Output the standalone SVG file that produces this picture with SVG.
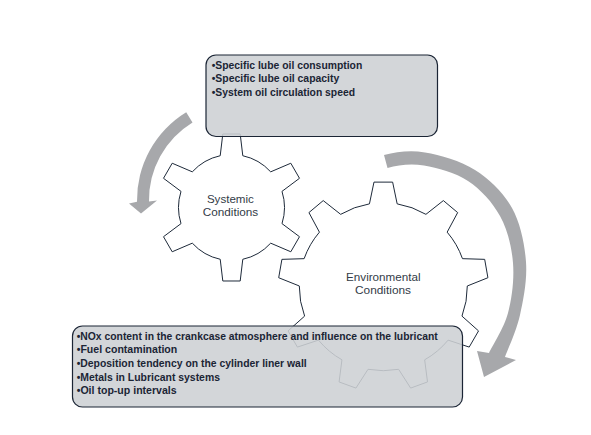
<svg xmlns="http://www.w3.org/2000/svg" width="591" height="435" viewBox="0 0 591 435">
  <style>
    .gear { fill: #ffffff; stroke: #1e2a3a; stroke-width: 1; stroke-linejoin: miter; }
    .glabel { font-family: "Liberation Sans", Arial, sans-serif; font-size: 11px; fill: #333b47; text-anchor: middle; }
    .box { fill: #cdd0d4; fill-opacity: 0.88; stroke: #1b2535; stroke-width: 1.2; }
    .btext { font-family: "Liberation Sans", Arial, sans-serif; font-size: 10px; font-weight: bold; fill: #1b2535; }
    .arrow { fill: #a7a8ab; stroke: none; }
  </style>
  <rect width="591" height="435" fill="#ffffff"/>

  <g id="connectors">
    <path class="arrow" d="M186.2,112.2 A103,103 0 0 0 137.0,201.8 L129,203.5 L141,213.5 L157,200.5 L149.0,201.6 A91,91 0 0 1 192.5,122.4 Z"/>
    <path class="arrow" d="M384,155 C397,152 409.8,150 425,152.5 C440.2,155 460.5,160.75 475,170 C489.5,179.25 503.5,192.7 512,208 C520.5,223.3 524.7,244.2 526,262 C527.3,279.8 523.5,299.2 520,315 C516.5,330.8 507.5,350 505,357 L516,360 L484,377 L477,351 L489,353 C492.2,346.3 504,328 508,313 C512,298 514.3,279.2 513,263 C511.7,246.8 507.5,229.7 500,216 C492.5,202.3 480.7,189.4 468,181 C455.3,172.6 437.4,167.7 424,165.5 C410.6,163.3 398.5,165 387.5,168 Z"/>
  </g>

  <g id="node-systemic">
    <path class="gear" d="M220.21,155.72 L222.80,134.01 L240.20,134.01 L242.79,155.72 A53,53 0 0 1 270.70,171.83 L290.80,163.23 L299.49,178.29 L281.99,191.39 A53,53 0 0 1 281.99,223.61 L299.49,236.71 L290.80,251.77 L270.70,243.17 A53,53 0 0 1 242.79,259.28 L240.20,280.99 L222.80,280.99 L220.21,259.28 A53,53 0 0 1 192.30,243.17 L172.20,251.77 L163.51,236.71 L181.01,223.61 A53,53 0 0 1 181.01,191.39 L163.51,178.29 L172.20,163.23 L192.30,171.83 A53,53 0 0 1 220.21,155.72 Z"/>
    <text class="glabel" x="230.4" y="203.3" textLength="47" lengthAdjust="spacingAndGlyphs">Systemic</text>
    <text class="glabel" x="230.5" y="216" textLength="55.5" lengthAdjust="spacingAndGlyphs">Conditions</text>
  </g>

  <g id="node-environmental">
    <path class="gear" d="M369.44,203.85 L373.97,182.12 L392.63,182.12 L397.16,203.85 A84,84 0 0 1 425.93,214.33 L443.37,200.58 L457.67,212.58 L447.17,232.15 A84,84 0 0 1 462.48,258.66 L484.68,259.35 L487.91,277.73 L467.30,285.97 A84,84 0 0 1 461.98,316.12 L478.54,330.91 L469.20,347.08 L448.11,340.13 A84,84 0 0 1 424.66,359.81 L427.51,381.94 L410.65,388.08 L398.61,369.30 A84,84 0 0 1 368.00,369.30 L355.95,388.08 L339.09,381.94 L341.94,359.81 A84,84 0 0 1 318.49,340.13 L297.40,347.08 L288.06,330.91 L304.62,316.12 A84,84 0 0 1 299.30,285.97 L278.69,277.73 L281.92,259.35 L304.12,258.66 A84,84 0 0 1 319.43,232.15 L308.93,212.58 L323.23,200.58 L340.67,214.33 A84,84 0 0 1 369.44,203.85 Z"/>
    <text class="glabel" x="383.3" y="281" textLength="74.5" lengthAdjust="spacingAndGlyphs">Environmental</text>
    <text class="glabel" x="383" y="293.5" textLength="56" lengthAdjust="spacingAndGlyphs">Conditions</text>
  </g>

  <g id="node-top-box">
    <rect class="box" x="206" y="55" width="231.5" height="81.5" rx="10" ry="10"/>
    <text class="btext" x="211.7" y="68.5" textLength="150.6" lengthAdjust="spacingAndGlyphs">•Specific lube oil consumption</text>
    <text class="btext" x="211.7" y="82" textLength="127.6" lengthAdjust="spacingAndGlyphs">•Specific lube oil capacity</text>
    <text class="btext" x="211.7" y="95.5" textLength="143.3" lengthAdjust="spacingAndGlyphs">•System oil circulation speed</text>
  </g>

  <g id="node-bottom-box">
    <rect class="box" x="72.5" y="326" width="390" height="81" rx="10" ry="10"/>
    <text class="btext" x="76.7" y="339.5" textLength="361" lengthAdjust="spacingAndGlyphs">•NOx content in the crankcase atmosphere and influence on the lubricant</text>
    <text class="btext" x="76.7" y="353.2" textLength="100.6" lengthAdjust="spacingAndGlyphs">•Fuel contamination</text>
    <text class="btext" x="76.7" y="366.9" textLength="230" lengthAdjust="spacingAndGlyphs">•Deposition tendency on the cylinder liner wall</text>
    <text class="btext" x="76.7" y="380.6" textLength="143.3" lengthAdjust="spacingAndGlyphs">•Metals in Lubricant systems</text>
    <text class="btext" x="76.7" y="394.3" textLength="100" lengthAdjust="spacingAndGlyphs">•Oil top-up intervals</text>
  </g>
</svg>
